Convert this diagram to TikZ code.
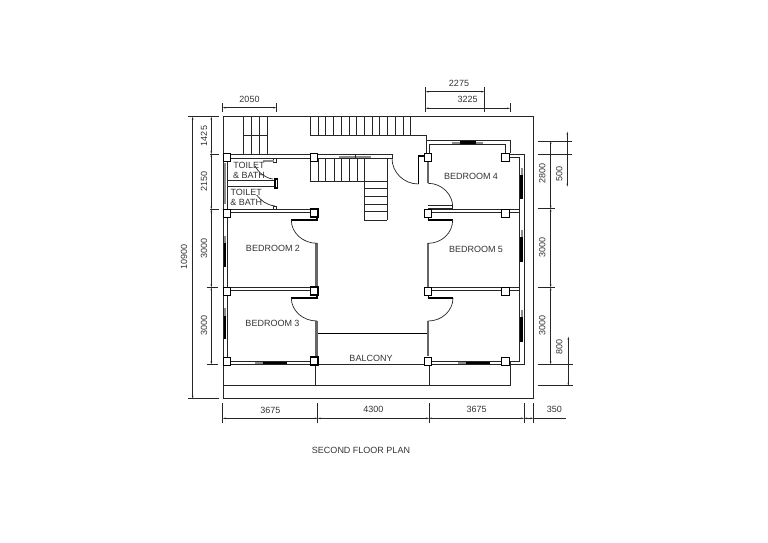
\documentclass[tikz,border=0pt]{standalone}
\usepackage{fontspec}
\setmainfont{Liberation Sans}
\usetikzlibrary{arrows.meta,positioning}
\begin{document}
\begin{tikzpicture}[x = 1pt, y = -1pt, line width = 0.7pt, color = black!85]
        \tikzstyle{column} = [rectangle, draw = black, fill = white, line width = 0.9pt, minimum width = 7.5pt, minimum height = 8pt, inner sep = 0pt]
        \tikzstyle{boldcolumn} = [column, line width = 1.5pt]
        \tikzstyle{label} = [font = \fontsize{9}{10}\selectfont, text = black!80, inner sep = 0pt, align = center]
        \tikzstyle{dim} = [line width = 0.6pt, {Stealth[length = 3pt, width = 1.6pt]}-{Stealth[length = 3pt, width = 1.6pt]}]
        \tikzstyle{ext} = [line width = 0.6pt]
        \tikzstyle{wall} = [line width = 0.7pt, black!85]
        \tikzstyle{thickwall} = [line width = 1.2pt, black]
        \tikzstyle{innerwall} = [line width = 2.2pt, black!60]
        \tikzstyle{glass} = [line width = 2pt, black!45]
        \tikzstyle{pane} = [line width = 2.6pt, black]
        \useasboundingbox (0,0) rectangle (768,543);
        % outer slab and balcony
        \draw [wall] (223,116.7) -- (533.3,116.7) -- (533.3,398.7) -- (223,398.7) -- cycle;
        \draw [wall] (223,385.7) -- (510,385.7) -- (510,361);
        \draw [wall] (223,364.3) -- (505,364.3);
        \draw [wall] (315.7,364.3) -- (315.7,385.7);
        \draw [wall] (429,364.3) -- (429,385.7);
        \draw [thickwall] (318,333.7) -- (427.7,333.7);
        % stairs
        \foreach \x in {243.7,251.3,259.3,267.7}
            \draw [wall] (\x,116.7) -- (\x,154);
        \draw [wall] (243.7,135.7) -- (267.7,135.7);
        \foreach \i in {0,...,13}
            \draw [wall] (310.3+\i*7.72,116.7) -- (310.3+\i*7.72,135.7);
        \draw [wall] (310.3,135.7) -- (426,135.7) -- (426,153);
        \foreach \x in {310.3,318.3,325.7,334,341.7,349.3,357.3,364.3}
            \draw [wall] (\x,158) -- (\x,181);
        \draw [wall] (310.3,181) -- (387.3,181);
        \draw [wall] (364.3,181) -- (364.3,220);
        \draw [wall] (387.3,158) -- (387.3,220);
        \foreach \y in {188.3,196.7,204.3,211.7,220}
            \draw [wall] (364.3,\y) -- (387.3,\y);
        % horizontal walls
        \draw [wall] (227,154.8) -- (392,154.8) -- (392,158.2) -- (227,158.2);
        \draw [wall] (227,209.3) -- (314,209.3) (227,212.5) -- (314,212.5);
        \draw [wall] (227,287.3) -- (314,287.3) (227,290) -- (314,290);
        \draw [wall] (227,361.7) -- (314,361.7);
        \draw [wall] (428,209.3) -- (519,209.3) (428,212.5) -- (519,212.5);
        \draw [wall] (428,287.5) -- (519,287.5) (428,290) -- (519,290);
        \draw [wall] (428,361.7) -- (519,361.7);
        % outer walls
        \draw [wall] (227,158) -- (227,361.7);
        \draw [wall] (426,140.7) -- (510,140.7) -- (510,153);
        \draw [wall] (429.5,153) -- (429.5,144) -- (505.5,144) -- (505.5,153);
        \draw [wall] (509,154) -- (524,154) -- (524,364.3) -- (505,364.3);
        \draw [wall] (509,157.7) -- (519,157.7) -- (519,361.7);
        % inner walls
        \draw [innerwall] (316.5,243.3) -- (316.5,287);
        \draw [thickwall] (291.3,220) -- (317,220) -- (317,212);
        \draw [innerwall] (316.5,321) -- (316.5,356);
        \draw [thickwall] (291.3,298) -- (317,298) -- (317,295);
        \draw [innerwall] (428.2,162) -- (428.2,183.3);
        \draw [innerwall] (428.2,243.3) -- (428.2,287);
        \draw [innerwall] (428.2,321) -- (428.2,356);
        \draw [thickwall] (428.5,295) -- (428.5,298) -- (453,298);
        \draw [thickwall] (428.5,217) -- (428.5,220) -- (452.7,220);
        \draw [wall] (428,205.5) -- (452.7,205.5) -- (452.7,208) -- (428,208);
        \draw [thickwall] (424,156) -- (418.3,156) -- (418.3,184);
        % door swings
        \draw [wall] (291.3,220) .. controls (291.3,232.9) and (302.8,243.3) .. (317,243.3);
        \draw [wall] (291.3,298) .. controls (291.3,310.7) and (302.8,321) .. (317,321);
        \draw [wall] (452.7,220) .. controls (452.7,232.9) and (441.7,243.3) .. (428.2,243.3);
        \draw [wall] (453,298) .. controls (453,310.7) and (441.9,321) .. (428.2,321);
        \draw [wall] (428.2,183.3) .. controls (441.7,183.3) and (452.7,194.4) .. (452.7,206.7);
        \draw [wall] (392,158.2) .. controls (392,172.4) and (403.8,184) .. (418.3,184);
        \draw [wall] (255,166) .. controls (259,173) and (265,178) .. (273,179);
        \draw [wall] (256.7,195) .. controls (261,201) and (267,205) .. (275,206);
        % toilet partitions
        \draw [wall] (227,180) -- (275,180) (227,186) -- (275,186);
        \draw [thickwall] (275,179) rectangle (277.3,188);
        \draw [wall] (273.3,206) rectangle (276.7,209.3);
        \draw [wall] (273.3,158) rectangle (276.7,162);
        \draw [glass] (263,160.5) -- (274,160.5);
        % windows
        \draw [glass] (224.8,163) -- (224.8,204);
        \draw [glass] (224.8,236) -- (224.8,267);
        \draw [pane] (225,243) -- (225,267);
        \draw [glass] (224.8,308) -- (224.8,339.3);
        \draw [pane] (225,316) -- (225,339.3);
        \draw [glass] (521.5,168) -- (521.5,199);
        \draw [pane] (521.5,175) -- (521.5,199);
        \draw [glass] (521.5,230) -- (521.5,261.7);
        \draw [pane] (521.5,237) -- (521.5,261.7);
        \draw [glass] (521.5,310) -- (521.5,341.7);
        \draw [pane] (521.5,317) -- (521.5,341.7);
        \draw [glass] (451.7,142.5) -- (483.3,142.5);
        \draw [pane] (460,142.5) -- (475.7,142.5);
        \draw [glass] (255,363) -- (286.7,363);
        \draw [pane] (262.7,363) -- (286.7,363);
        \draw [glass] (458,363) -- (490,363);
        \draw [pane] (466,363) -- (490,363);
        \draw [glass] (339,156.5) -- (370.7,156.5);
        \draw [wall] (355.7,154.8) -- (355.7,158.2);
        % columns
        \foreach \name/\x/\y in {c11/227/157.8, c12/314/157.8, c13/427.7/157.8, c14/505.5/157.8,
                c21/227/213, c23/427.7/213, c24/505.5/213,
                c31/227/291, c33/427.7/291, c34/505.5/291,
                c41/227/361, c43/427.7/361, c44/505.5/361}
            \node (\name) at (\x,\y) [column] {};
        \foreach \name/\x/\y in {c22/314/213, c32/314/291, c42/314/361}
            \node (\name) at (\x,\y) [boldcolumn] {};
        % room labels
        \node (toilet1) at (249,170) [label] {TOILET \\[0.1pt] \& BATH};
        \node (toilet2) at (246.3,197) [label] {TOILET \\[0.1pt] \& BATH};
        \node (bedroom2) at (273,248) [label] {BEDROOM 2};
        \node (bedroom3) at (272.5,323) [label] {BEDROOM 3};
        \node (bedroom4) at (471,176.5) [label] {BEDROOM 4};
        \node (bedroom5) at (476,249.5) [label] {BEDROOM 5};
        \node (balcony) at (371,358.5) [label] {BALCONY};
        \node (title) at (361,450.5) [label] {SECOND FLOOR PLAN};
        % top dimensions
        \draw [ext] (222.7,103.3) -- (222.7,112) (276.3,103.3) -- (276.3,112);
        \draw [dim] (222.7,107.7) -- (276.3,107.7);
        \node (d2050) at (249.5,99) [label] {2050};
        \draw [ext] (425.7,86.7) -- (425.7,111.7) (484.3,86.7) -- (484.3,111.7) (510,103.3) -- (510,112);
        \draw [dim] (425.7,91.7) -- (484.3,91.7);
        \draw [dim] (425.7,108.3) -- (510,108.3);
        \node (d2275) at (459,83) [label] {2275};
        \node (d3225) at (467.7,99.7) [label] {3225};
        % left dimensions
        \draw [ext] (188.3,116.7) -- (219.3,116.7) (188.3,398.7) -- (219.3,398.7);
        \draw [ext] (210,154) -- (219,154) (210,209.3) -- (219,209.3) (206.7,287.3) -- (218,287.3) (206.7,364.3) -- (218,364.3);
        \draw [dim] (192.7,116.7) -- (192.7,398.7);
        \draw [dim] (211.3,116.7) -- (211.3,154);
        \draw [dim] (211.3,154) -- (211.3,209.3);
        \draw [dim] (211.3,209.3) -- (211.3,287.3);
        \draw [dim] (211.3,287.3) -- (211.3,364.3);
        \node (d10900) at (184,257) [label, rotate = 90] {10900};
        \node (d1425) at (204,136) [label, rotate = 90] {1425};
        \node (d2150) at (204,181) [label, rotate = 90] {2150};
        \node (d3000a) at (204,248) [label, rotate = 90] {3000};
        \node (d3000b) at (204,325) [label, rotate = 90] {3000};
        % right dimensions
        \draw [ext] (537.7,141) -- (571.7,141) (537.7,154) -- (571.7,154) (537.7,208.7) -- (555,208.7);
        \draw [ext] (537.7,287.3) -- (555,287.3) (537.7,364.3) -- (572.7,364.3) (537.7,385.7) -- (572.7,385.7);
        \draw [dim] (550.7,141) -- (550.7,208.7);
        \draw [dim] (550.7,208.7) -- (550.7,287.3);
        \draw [dim] (550.7,287.3) -- (550.7,364.3);
        \draw [dim] (567.3,131.7) -- (567.3,186.7);
        \draw [dim] (568.3,336.7) -- (568.3,385.7);
        \node (d2800) at (542.3,173.3) [label, rotate = 90] {2800};
        \node (d3000c) at (542.3,247) [label, rotate = 90] {3000};
        \node (d3000d) at (542.3,325) [label, rotate = 90] {3000};
        \node (d500) at (559.3,174) [label, rotate = 90] {500};
        \node (d800) at (559.3,347.3) [label, rotate = 90] {800};
        % bottom dimensions
        \foreach \x in {222.7,317.7,429,524,533.3}
            \draw [ext] (\x,403.3) -- (\x,423.3);
        \draw [dim] (222.7,418.3) -- (317.7,418.3);
        \draw [dim] (317.7,418.3) -- (429,418.3);
        \draw [dim] (429,418.3) -- (524,418.3);
        \draw [dim] (524,418.3) -- (533.3,418.3);
        \draw [ext] (533.3,418.3) -- (566,418.3);
        \node (d3675a) at (270.3,410) [label] {3675};
        \node (d4300) at (373.3,409) [label] {4300};
        \node (d3675b) at (476.7,409) [label] {3675};
        \node (d350) at (554.3,409) [label] {350};
    \end{tikzpicture}
\end{document}
